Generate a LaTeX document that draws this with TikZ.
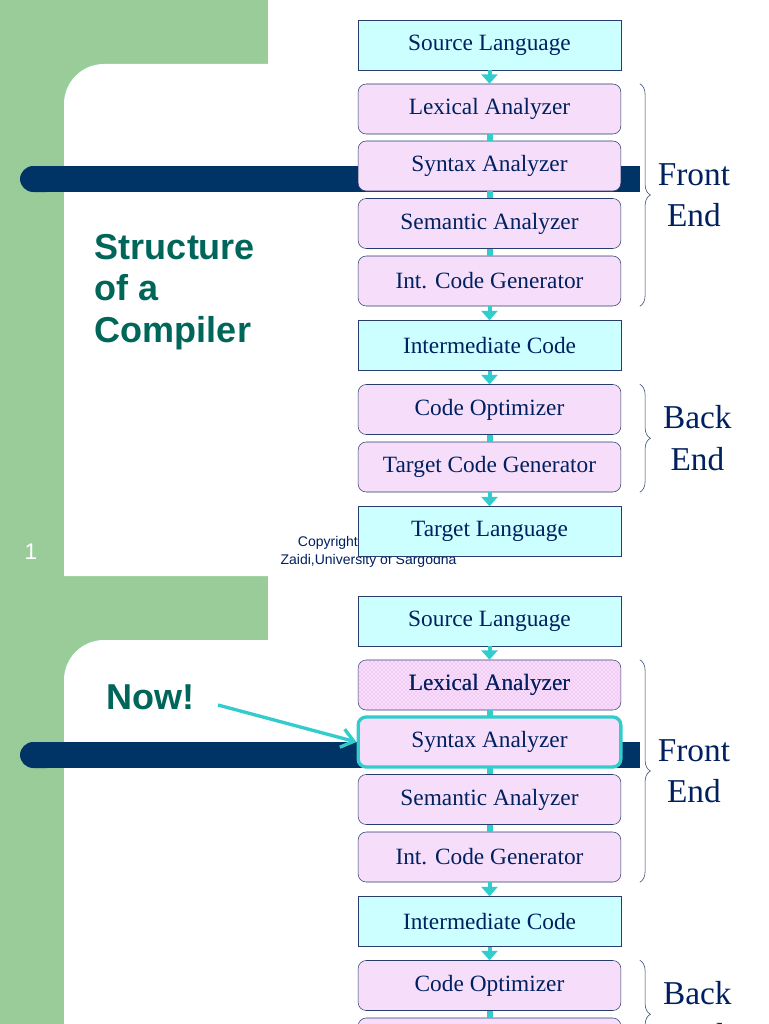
\documentclass[tikz,border=0pt]{standalone}
\usepackage{fontspec}
\setmainfont{Liberation Serif}
\newfontfamily\slidesans{Liberation Sans}
\usetikzlibrary{arrows.meta, positioning, decorations.pathreplacing, patterns}

\definecolor{slidegreen}{RGB}{153,204,153}
\definecolor{barblue}{RGB}{0,51,102}
\definecolor{boxline}{RGB}{40,60,110}
\definecolor{inkblue}{RGB}{0,32,96}
\definecolor{linkcyan}{RGB}{51,204,204}
\definecolor{cyanfill}{RGB}{204,255,255}
\definecolor{pinkfill}{RGB}{246,222,250}
\definecolor{hotpink}{RGB}{240,150,235}
\definecolor{titleteal}{RGB}{0,102,90}

\tikzset{
    stage/.style={
        draw=boxline,
        fill=pinkfill,
        rounded corners=6pt,
        minimum width=197pt,
        minimum height=37.5pt,
        text=inkblue,
        font=\fontsize{17.5}{20}\selectfont,
        inner sep=0pt
    },
    code/.style={
        stage,
        rounded corners=0pt,
        fill=cyanfill
    },
    flow/.style={
        linkcyan,
        line width=3pt,
        -{Triangle[width=12pt,length=7pt]}
    },
    glue/.style={
        linkcyan,
        line width=4.5pt
    },
    bracket/.style={
        decorate,
        decoration={brace, amplitude=8pt},
        boxline
    },
    side/.style={
        text=inkblue,
        font=\fontsize{25}{31}\selectfont,
        align=center
    },
    headline/.style={
        text=titleteal,
        font=\slidesans\bfseries\fontsize{27}{31}\selectfont,
        align=left
    }
}

% one slide of the compiler chain, node names prefixed by #1
\newcommand{\compilerslide}[1]{
    \fill[white] (0,0) rectangle (768,576);
    \fill[slidegreen] (0,0) rectangle (268,576);
    \fill[white] (800,576) -- (64,576) [rounded corners=30pt] -- (64,64) -- (800,64) -- cycle;
    \fill[white] (268,0) rectangle (768,64);
    \fill[barblue, rounded corners=10pt] (20,166) rectangle (60,192);
    \fill[barblue] (40,166) rectangle (640,192);

    \node[code]  (#1src) at (489.5,45)  {Source Language};
    \node[stage] (#1lex) at (489.5,109) {Lexical Analyzer};
    \node[stage] (#1syn) at (489.5,166) {Syntax Analyzer};
    \node[stage] (#1sem) at (489.5,223.5) {Semantic Analyzer};
    \node[stage] (#1icg) at (489.5,281) {Int. Code Generator};
    \node[code]  (#1ir)  at (489.5,345.5) {Intermediate Code};
    \node[stage] (#1opt) at (489.5,409.5) {Code Optimizer};
    \node[stage] (#1tcg) at (489.5,467) {Target Code Generator};
    \node[code]  (#1tgt) at (489.5,531.5) {Target Language};

    \draw[flow] (#1src) -- (#1lex);
    \draw[glue] (#1lex) -- (#1syn);
    \draw[glue] (#1syn) -- (#1sem);
    \draw[glue] (#1sem) -- (#1icg);
    \draw[flow] (#1icg) -- (#1ir);
    \draw[flow] (#1ir) -- (#1opt);
    \draw[glue] (#1opt) -- (#1tcg);
    \draw[flow] (#1tcg) -- (#1tgt);

    \draw[bracket] ([xshift=14pt]#1lex.north east) -- ([xshift=14pt]#1icg.south east)
        coordinate[midway, xshift=4pt] (#1fe);
    \draw[bracket] ([xshift=14pt]#1opt.north east) -- ([xshift=14pt]#1tcg.south east)
        coordinate[midway, xshift=4pt] (#1be);
    \node[side, right=6pt of #1fe] (#1front) {Front\\End};
    \node[side, right=10pt of #1be] (#1back) {Back\\End};
}

\begin{document}
\begin{tikzpicture}[x=0.75pt, y=-0.75pt]
\useasboundingbox (0,0) rectangle (768,1024);
\begin{scope}
    \clip (0,0) rectangle (768,1024);

    % second slide first so the first one covers its top
    \begin{scope}[yshift=-432pt]
        \compilerslide{b}
        \fill[pattern=crosshatch dots, pattern color=hotpink, rounded corners=6pt]
            (blex.south west) rectangle (blex.north east);
        \node[stage, fill=none, draw=none] at (blex) {Lexical Analyzer};
        \node[stage, fill=none, draw=linkcyan, line width=2.5pt] (bsynhi) at (bsyn) {};
        \node[headline] (now) at (150,121) {Now!};
        \coordinate (nowtail) at (218,129);
        \draw[linkcyan, line width=2.5pt, -{Straight Barb[length=9pt,width=14pt]}]
            (nowtail) -- (bsynhi.west);
    \end{scope}

    \compilerslide{a}
    \node[headline] (title) at (175,292) {Structure\\of a\\Compiler};
    \node[white, font=\slidesans\fontsize{17}{20}\selectfont] (num) at (31,552) {1};
    \node[text=inkblue, font=\slidesans\fontsize{10.5}{13}\selectfont, align=center] (copy)
        at (368.5,552) {Copyright\hspace*{5.8em}\\Zaidi,University of Sargodha};
    \node[code] at (atgt) {Target Language};
\end{scope}
\end{tikzpicture}
\end{document}
